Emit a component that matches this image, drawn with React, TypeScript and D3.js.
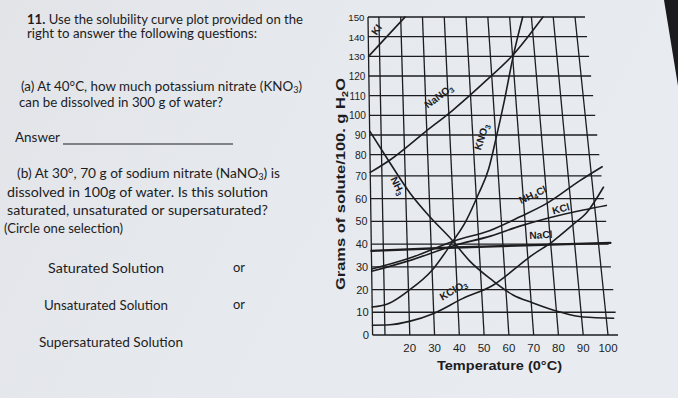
import React from 'react'
import * as d3 from 'd3'

type Pt = [number, number]

// labelled temperatures along the bottom
const tempTicks = [20, 30, 40, 50, 60, 70, 80, 90, 100]
// vertical grid lines (sheet is cut a little below 10 degrees)
const tempGrid = [5, 10, 20, 30, 40, 50, 60, 70, 80, 90, 100]
const gramTicks = [0, 10, 20, 30, 40, 50, 60, 70, 80, 90, 100, 110, 120, 130, 140, 150]

// [temperature C, grams solute / 100 g water]
const kiPts: Pt[] = [[5, 130], [13, 139.5], [22, 150]]
const nano3Pts: Pt[] = [[5, 71.5], [13.6, 77.3], [29.2, 91.5], [41.9, 102.7], [57.7, 118], [70.2, 130.7], [85.3, 150]]
const kno3Pts: Pt[] = [[5, 12.3], [12, 14], [20, 19.5], [30, 28.5], [39, 41], [45, 50], [51, 62], [56, 73], [60, 88], [65, 108], [70, 129], [76, 150]]
const nh3Pts: Pt[] = [[5, 92], [12.8, 77.3], [21.8, 62.5], [30, 51.9], [38.8, 41.8], [45.8, 32.5], [54.5, 24.2], [62.8, 17.6], [70.7, 14.1], [81.4, 10.1], [90.6, 7.9], [103, 7.4]]
const nh4clPts: Pt[] = [[5, 29], [20, 33.5], [40, 41.5], [55, 46], [68, 52], [80, 58], [95, 68], [105, 74]]
const kclPts: Pt[] = [[5, 28], [20, 32.5], [40, 39.5], [55, 43.5], [68, 48], [80, 51.5], [95, 55], [105, 57]]
const naclPts: Pt[] = [[5, 37], [40, 38.5], [105, 40.5]]
const kclo3Pts: Pt[] = [[5, 4.3], [12, 4.5], [20, 6], [30, 9.5], [42, 16], [55, 22], [66, 30.5], [71, 34.5], [80.7, 41], [90, 48.5], [96.5, 54], [104.6, 65]]

const curves = [
  { id: 'KI', pts: kiPts, w: 1.6 },
  { id: 'NaNO3', pts: nano3Pts, w: 1.6 },
  { id: 'KNO3', pts: kno3Pts, w: 1.6 },
  { id: 'NH3', pts: nh3Pts, w: 1.6 },
  { id: 'NH4Cl', pts: nh4clPts, w: 1.6 },
  { id: 'KCl', pts: kclPts, w: 1.6 },
  { id: 'NaCl', pts: naclPts, w: 2.3 },
  { id: 'KClO3', pts: kclo3Pts, w: 1.6 },
]

// label name, subscript, where it sits (temp, grams) and its tilt
const curveLabels = [
  { name: 'KI', sub: '', t: 9, v: 143.4, angle: -55 },
  { name: 'NaNO', sub: '3', t: 36, v: 109.5, angle: -37 },
  { name: 'KNO', sub: '3', t: 54, v: 89, angle: -72 },
  { name: 'NH', sub: '3', t: 16.4, v: 65.5, angle: 64 },
  { name: 'NH', sub: '4', tail: 'Cl', t: 74.2, v: 61.5, angle: -25 },
  { name: 'KCl', sub: '', t: 85.6, v: 55.3, angle: -15 },
  { name: 'NaCl', sub: '', t: 76.2, v: 43.8, angle: -3 },
  { name: 'KClO', sub: '3', t: 38.5, v: 19.5, angle: -30 },
]

const ink = '#1d1d1f'
const chartFont = '"Liberation Sans", Arial, sans-serif'
const sheetFont = 'Lato, "Open Sans", sans-serif'

const App = () => {
  // the photo is taken at a slant: the grid is narrower at the top
  const yScale = d3.scaleLinear().domain([0, 75, 150]).range([335, 164.5, 17])
  const xBottom = d3.scaleLinear().domain([5, 100]).range([372.6, 608])
  const xTop = d3.scaleLinear().domain([5, 100]).range([368, 575])
  const lift = d3.scaleLinear().domain([335, 17]).range([0, 1])
  const px = (t: number, v: number) => {
    const f = lift(yScale(v))
    return xBottom(t) * (1 - f) + xTop(t) * f
  }

  const line = d3
    .line<Pt>()
    .x(d => px(d[0], d[1]))
    .y(d => yScale(d[1]))
    .curve(d3.curveMonotoneX)

  return (
    <div style={{ position: 'absolute', left: 0, top: 0 }}>
      <svg width={678} height={398} style={{ display: 'block' }}>
        <defs>
          <linearGradient id="paper" x1="0" y1="0" x2="1" y2="0.3">
            <stop offset="0" stopColor="#e2e4e8" />
            <stop offset="0.5" stopColor="#e6e9ed" />
            <stop offset="1" stopColor="#e8ecf1" />
          </linearGradient>
        </defs>
        <rect width={678} height={398} fill="url(#paper)" />
        <polygon points="664,0 678,0 678,86" fill="#1b1b1d" />

        {/* question text */}
        <g fill={ink} fontFamily={sheetFont} fontSize={12.5}>
          <text x={27} y={24} textLength={276} lengthAdjust="spacingAndGlyphs">
            <tspan fontWeight="bold">11.</tspan> Use the solubility curve plot provided on the
          </text>
          <text x={27} y={38} textLength={230} lengthAdjust="spacingAndGlyphs">
            right to answer the following questions:
          </text>
          <text x={21} y={91} textLength={281} lengthAdjust="spacingAndGlyphs">
            (a) At 40°C, how much potassium nitrate (KNO<tspan fontSize={8.5} dy={2}>3</tspan><tspan dy={-2}>)</tspan>
          </text>
          <text x={19} y={107} textLength={204} lengthAdjust="spacingAndGlyphs">
            can be dissolved in 300 g of water?
          </text>
          <text x={15} y={142} textLength={45} lengthAdjust="spacingAndGlyphs">
            Answer
          </text>
          <line x1={63} x2={233} y1={144} y2={144} stroke={ink} strokeWidth={1} />
          <text x={17} y={178} textLength={263} lengthAdjust="spacingAndGlyphs">
            (b) At 30°, 70 g of sodium nitrate (NaNO<tspan fontSize={8.5} dy={2}>3</tspan><tspan dy={-2}>) is</tspan>
          </text>
          <text x={7} y={197} textLength={261} lengthAdjust="spacingAndGlyphs">
            dissolved in 100g of water.  Is this solution
          </text>
          <text x={7} y={215} textLength={261} lengthAdjust="spacingAndGlyphs">
            saturated, unsaturated or supersaturated?
          </text>
          <text x={4} y={233} textLength={119} lengthAdjust="spacingAndGlyphs">
            (Circle one selection)
          </text>
          <text x={48} y={273} textLength={116} lengthAdjust="spacingAndGlyphs">
            Saturated Solution
          </text>
          <text x={233} y={272} textLength={12} lengthAdjust="spacingAndGlyphs">
            or
          </text>
          <text x={44} y={310} textLength={124} lengthAdjust="spacingAndGlyphs">
            Unsaturated Solution
          </text>
          <text x={233} y={309} textLength={12} lengthAdjust="spacingAndGlyphs">
            or
          </text>
          <text x={39} y={347} textLength={144} lengthAdjust="spacingAndGlyphs">
            Supersaturated Solution
          </text>
        </g>

        {/* grid */}
        <g stroke={ink} strokeWidth={1.3} fill="none">
          {tempGrid.map(t => (
            <line key={'v' + t} x1={px(t, 0)} y1={yScale(0)} x2={px(t, 150)} y2={yScale(150)} />
          ))}
          {gramTicks.map(v => (
            <line key={'h' + v} x1={px(5, v)} y1={yScale(v)} x2={px(100, v) + 10} y2={yScale(v)} />
          ))}
        </g>

        {/* solubility curves */}
        <g fill="none" stroke={ink} strokeLinecap="round">
          {curves.map(c => (
            <path key={c.id} d={line(c.pts) || ''} strokeWidth={c.w} />
          ))}
        </g>

        <g fill={ink} fontFamily={chartFont} fontWeight="bold" fontSize={10.2}>
          {curveLabels.map((l, i) => (
            <text
              key={i}
              textAnchor="middle"
              transform={`translate(${px(l.t, l.v)},${yScale(l.v)}) rotate(${l.angle})`}
              dy={3}
            >
              {l.name}
              {l.sub && (
                <tspan fontSize={7.5} dy={2}>
                  {l.sub}
                </tspan>
              )}
              {l.tail && <tspan dy={-2}>{l.tail}</tspan>}
            </text>
          ))}
        </g>

        {/* tick labels */}
        <g fill={ink} fontFamily={chartFont}>
          {gramTicks.map(v => (
            <text
              key={'yl' + v}
              x={px(5, v) - 3.5}
              y={yScale(v) + 4}
              textAnchor="end"
              fontSize={11.3 - 1.6 * lift(yScale(v))}
            >
              {v}
            </text>
          ))}
          {tempTicks.map(t => (
            <text key={'xl' + t} x={xBottom(t)} y={352} textAnchor="middle" fontSize={11.5}>
              {t}
            </text>
          ))}
        </g>

        <g fill={ink} fontFamily={chartFont} fontWeight="bold">
          <text x={437} y={370} fontSize={13.5} textLength={125} lengthAdjust="spacingAndGlyphs">
            Temperature (0°C)
          </text>
          <text
            transform="translate(345,290) rotate(-90)"
            fontSize={13}
            textLength={212}
            lengthAdjust="spacingAndGlyphs"
          >
            Grams of solute/100. g H<tspan fontSize={9} dy={3}>2</tspan>
            <tspan dy={-3}>O</tspan>
          </text>
        </g>
      </svg>
    </div>
  )
}

export default App
